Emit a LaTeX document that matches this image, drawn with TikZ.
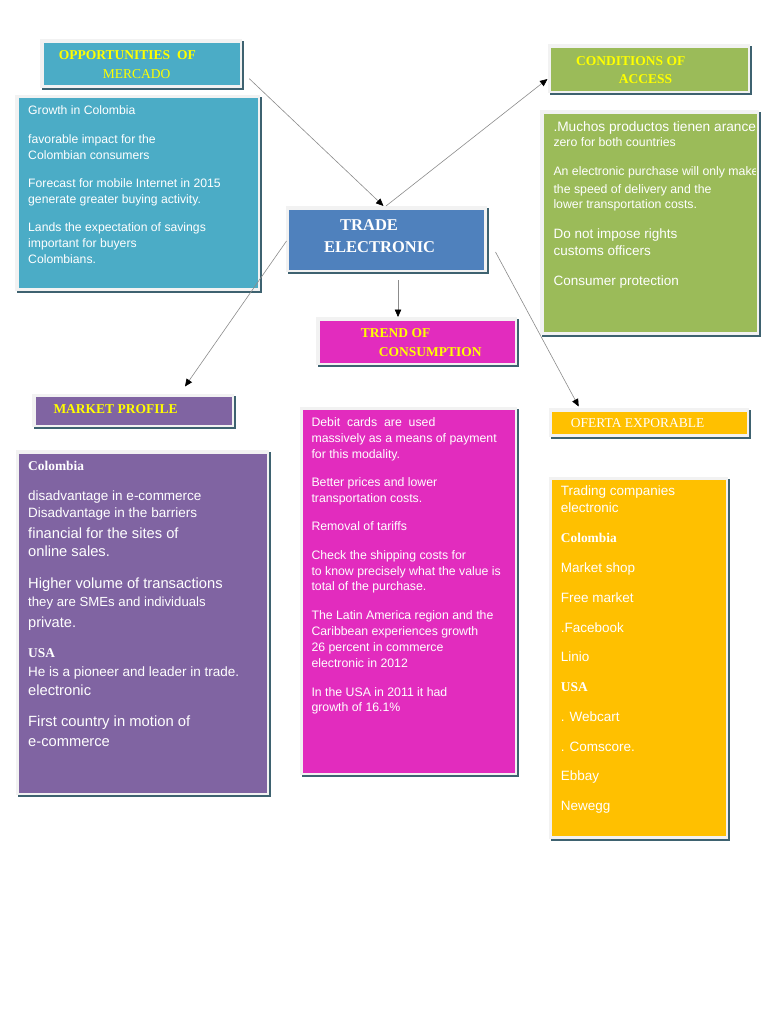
\documentclass[tikz,border=0pt]{standalone}
\usepackage{fontspec}
\setmainfont{Liberation Sans}
\newfontfamily\tnr{Liberation Serif}
\usetikzlibrary{arrows.meta}
\definecolor{framec}{HTML}{F2F2F2}
\definecolor{shadowc}{HTML}{3E6270}
\definecolor{cblue}{HTML}{4BACC6}
\definecolor{cdblue}{HTML}{4F81BD}
\definecolor{cgreen}{HTML}{9BBB59}
\definecolor{cmag}{RGB}{226,44,190}
\definecolor{cpurple}{HTML}{8064A2}
\definecolor{cyellow}{HTML}{FFC000}
\definecolor{hyellow}{HTML}{FFFF00}
\definecolor{lineg}{HTML}{8C8C8C}
\newcounter{tln}
\newcommand\tline[4][12.2]{\stepcounter{tln}\node[txt,font=\fontsize{#1}{#1}\selectfont] (t\arabic{tln}) at (#2,#3) {#4};}
\newcommand\headline[5]{\stepcounter{tln}\node[txt,text=#4,font=\fontsize{#1}{#1}\selectfont\tnr] (t\arabic{tln}) at (#2,#3) {#5};}
\newcommand\cbox[6]{%
  \fill[shadowc] (#2+2,#3+2) rectangle (#4+2,#5+2);
  \fill[framec] (#2,#3) rectangle (#4,#5);
  \node[inner sep=0pt, outer sep=0pt, fill=#6, anchor=north west,
        minimum width={#4-#2-6}, minimum height={#5-#3-6}] (#1) at (#2+3.5,#3+3.5) {};}
\tikzset{
  txt/.style={text=white, inner sep=0pt, anchor=base west},
  conn/.style={draw=lineg, line width=0.6pt, -{Triangle[length=7.5pt,width=6.5pt,color=black]}}
}
\begin{document}
\begin{tikzpicture}[x=1pt,y=-1pt]
\useasboundingbox (0,0) rectangle (768,1024);
\fill[white] (0,0) rectangle (768,1024);

% boxes
\cbox{opp}{40}{39.5}{242}{88}{cblue}
\cbox{oppbody}{15}{95}{260}{290.5}{cblue}
\cbox{trade}{285.5}{206.5}{486.7}{272}{cdblue}
\cbox{trend}{316}{317}{517.3}{365}{cmag}
\cbox{cond}{547.5}{44.5}{750}{93.3}{cgreen}
\cbox{condbody}{540}{110.5}{759.3}{334.7}{cgreen}
\cbox{mprof}{32}{393.5}{234}{427.3}{cpurple}
\cbox{pbody}{15.5}{450}{269.3}{795.3}{cpurple}
\cbox{mbody}{299.5}{406.5}{517.3}{775.3}{cmag}
\cbox{oferta}{548.5}{408}{749.3}{436.7}{cyellow}
\cbox{ybody}{548.5}{476.5}{728}{838.7}{cyellow}

% connectors
\coordinate (a1s) at (249.3,78.7);
\coordinate (a1e) at (383.5,206);
\coordinate (a2s) at (386,206);
\coordinate (a2e) at (547.5,79);
\coordinate (a3s) at (286.5,241);
\coordinate (a3e) at (185,386.5);
\coordinate (a4s) at (398,280);
\coordinate (a4e) at (398,317);
\coordinate (a5s) at (495.5,252);
\coordinate (a5e) at (578.7,406.5);
\draw[conn] (a1s) -- (a1e);
\draw[conn] (a2s) -- (a2e);
\draw[conn] (a3s) -- (a3e);
\draw[conn] (a4s) -- (a4e);
\draw[conn] (a5s) -- (a5e);

% headings
\headline{13.5}{58.7}{60}{hyellow}{\bfseries OPPORTUNITIES\hspace{7pt}OF}
\headline{13.5}{102.7}{78.7}{hyellow}{MERCADO}
\headline{13.5}{576}{65.3}{hyellow}{\bfseries CONDITIONS OF}
\headline{13.5}{618.7}{84}{hyellow}{\bfseries ACCESS}
\headline{16.5}{340}{230.7}{white}{\bfseries TRADE}
\headline{16.5}{324}{252.7}{white}{\bfseries ELECTRONIC}
\headline{13.5}{360.7}{337.3}{hyellow}{\bfseries TREND OF}
\headline{13.5}{378.7}{356}{hyellow}{\bfseries CONSUMPTION}
\headline{13.5}{53.3}{413.3}{hyellow}{\bfseries MARKET PROFILE}
\headline{13.5}{570.7}{427.3}{white}{OFERTA EXPORABLE}

% left box
\tline{28}{115}{Growth in Colombia}
\tline{28}{144}{favorable impact for the}
\tline{28}{159.5}{Colombian consumers}
\tline{28}{187.5}{Forecast for mobile Internet in 2015}
\tline{28}{203.5}{generate greater buying activity.}
\tline{28}{232}{Lands the expectation of savings}
\tline{28}{247.5}{important for buyers}
\tline{28}{263}{Colombians.}

% green box
\begin{scope}
\clip (condbody.north west) rectangle ([xshift=-1.5pt]condbody.south east);
\tline[13.7]{553.3}{132}{.Muchos productos tienen arancel}
\tline[12.3]{553.3}{146.7}{zero for both countries}
\tline[12.3]{553.3}{176}{An electronic purchase will only make}
\tline[12.3]{553.3}{193.3}{the speed of delivery and the}
\tline[12.3]{553.3}{208.7}{lower transportation costs.}
\tline[13.5]{553.3}{238}{Do not impose rights}
\tline[13.5]{553.3}{255.3}{customs officers}
\tline[13.5]{553.3}{285.3}{Consumer protection}
\end{scope}

% purple box
\headline{13.4}{28}{470.7}{white}{\bfseries Colombia}
\tline[13.5]{28}{500}{disadvantage in e-commerce}
\tline[13.5]{28}{517.3}{Disadvantage in the barriers}
\tline[14.7]{28}{538}{financial for the sites of}
\tline[14.7]{28}{556.7}{online sales.}
\tline[14.7]{28}{588.7}{Higher volume of transactions}
\tline[13.2]{28}{606.7}{they are SMEs and individuals}
\tline[14.6]{28}{627.3}{private.}
\headline{13.4}{28}{657.3}{white}{\bfseries USA}
\tline[13.5]{28}{676}{He is a pioneer and leader in trade.}
\tline[14.7]{28}{695.3}{electronic}
\tline[14.8]{28}{726.7}{First country in motion of}
\tline[14.7]{28}{746}{e-commerce}

% magenta box
\tline[12.3]{311.3}{426.7}{Debit\hspace{6.9pt}cards\hspace{6.9pt}are\hspace{6.9pt}used}
\tline[12.3]{311.3}{442.7}{massively as a means of payment}
\tline[12.3]{311.3}{458.7}{for this modality.}
\tline[12.3]{311.3}{486}{Better prices and lower}
\tline[12.3]{311.3}{502.7}{transportation costs.}
\tline[12.3]{311.3}{530.7}{Removal of tariffs}
\tline[12.3]{311.3}{559.3}{Check the shipping costs for}
\tline[12.3]{311.3}{575.3}{to know precisely what the value is}
\tline[12.3]{311.3}{590.7}{total of the purchase.}
\tline[12.3]{311.3}{619.3}{The Latin America region and the}
\tline[12.3]{311.3}{635.3}{Caribbean experiences growth}
\tline[12.3]{311.3}{651.3}{26 percent in commerce}
\tline[12.3]{311.3}{667.3}{electronic in 2012}
\tline[12.3]{311.3}{696}{In the USA in 2011 it had}
\tline[12.3]{311.3}{711.3}{growth of 16.1\%}

% yellow box
\tline[13.5]{560.7}{495.3}{Trading companies}
\tline[13.5]{560.7}{512.7}{electronic}
\headline{13.4}{560.7}{542.7}{white}{\bfseries Colombia}
\tline[13.5]{560.7}{572}{Market shop}
\tline[13.5]{560.7}{602}{Free market}
\tline[13.5]{560.7}{632}{.Facebook}
\tline[13.5]{560.7}{661.3}{Linio}
\headline{13.4}{560.7}{691.3}{white}{\bfseries USA}
\tline[13.5]{560.7}{721.3}{. Webcart}
\tline[13.5]{560.7}{751.3}{. Comscore.}
\tline[13.5]{560.7}{780.7}{Ebbay}
\tline[13.5]{560.7}{810.7}{Newegg}
\end{tikzpicture}
\end{document}
